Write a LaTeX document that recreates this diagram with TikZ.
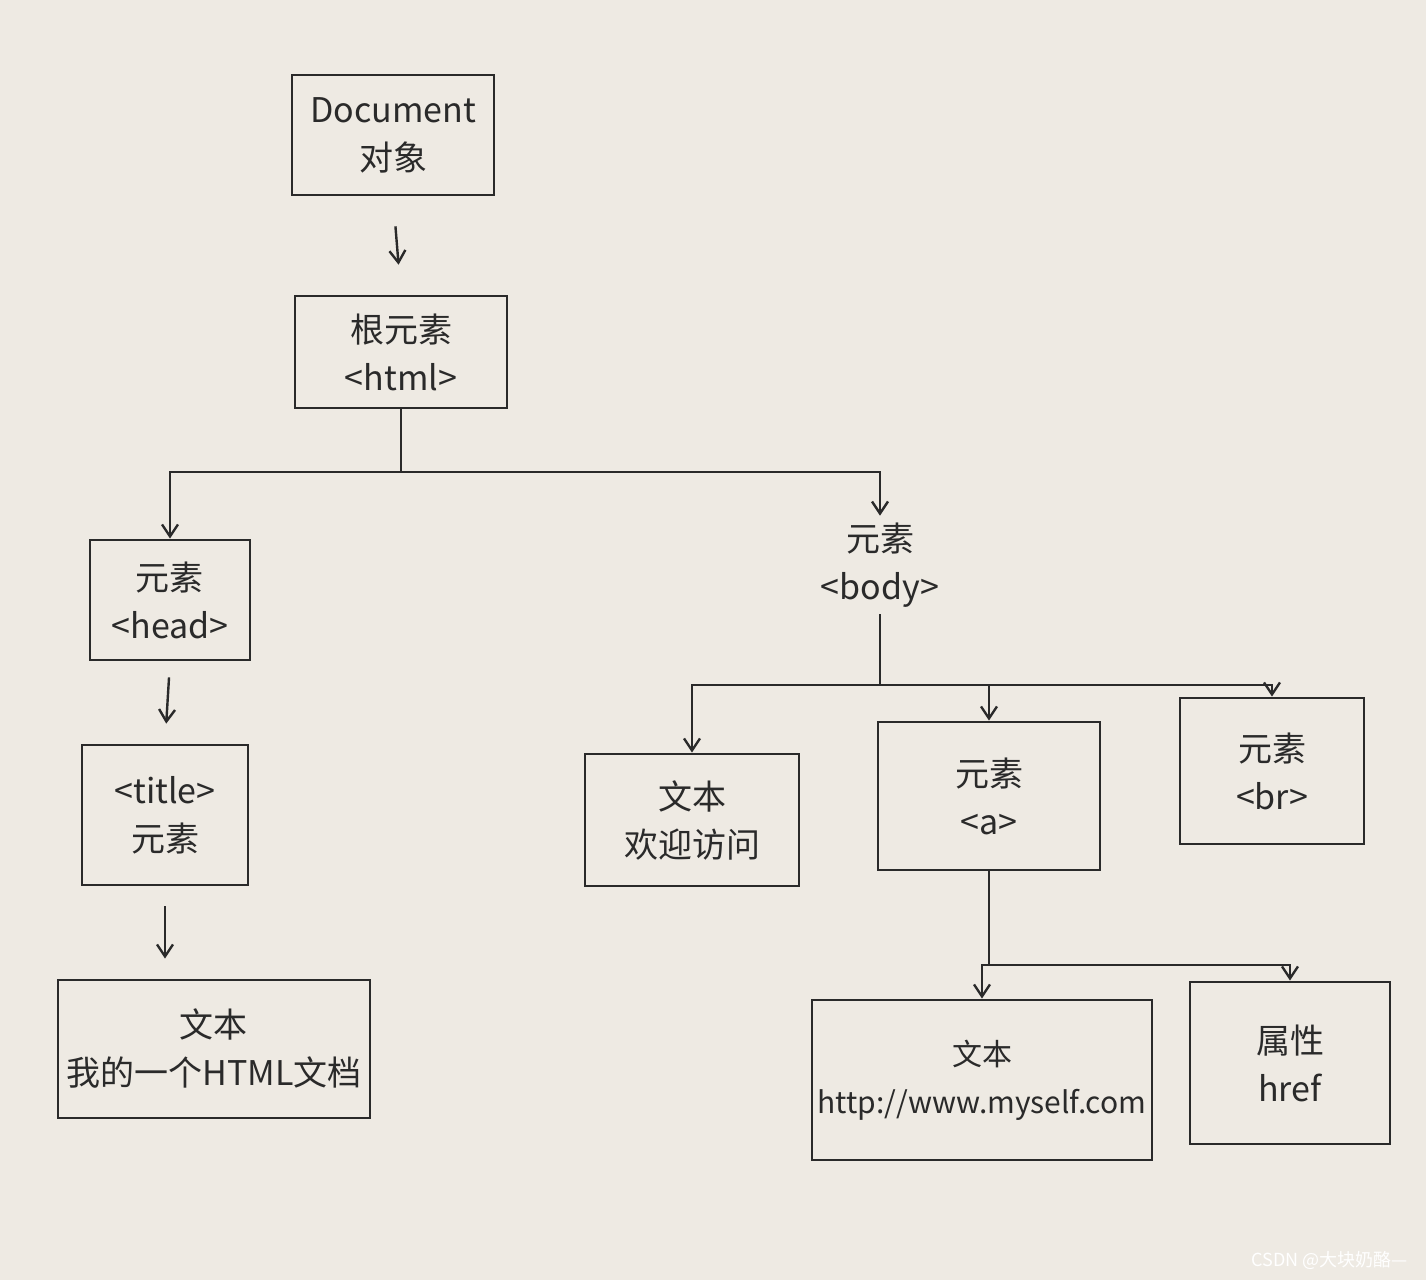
\documentclass[tikz,border=0pt]{standalone}
\usepackage{fontspec}
\setmainfont{Noto Sans CJK SC}
\usetikzlibrary{arrows.meta}
\definecolor{paper}{HTML}{EEEAE3}
\definecolor{ink}{HTML}{2A2A2A}
\begin{document}
\begin{tikzpicture}[x=0.5pt,y=-0.5pt,
  box/.style={draw=ink,line width=1.4pt,inner sep=0pt,align=center,font=\fontsize{17}{24}\selectfont,text=ink},
  lbl/.style={align=center,font=\fontsize{17}{24}\selectfont,text=ink},
  wire/.style={draw=ink,line width=1.2pt},
  arr/.style={wire,-{Straight Barb[length=6pt,width=8pt]}}]
\fill[paper] (0,0) rectangle (1426,1280);
\useasboundingbox (0,0) rectangle (1426,1280);
\node[box,minimum width=101pt,minimum height=60pt] (doc) at (393,135) {Document\\对象};
\node[box,minimum width=106pt,minimum height=56pt] (html) at (401,352) {根元素\\<html>};
\node[box,minimum width=80pt,minimum height=60pt] (head) at (170,600) {元素\\<head>};
\node[box,minimum width=83pt,minimum height=70pt] (title) at (165,815) {<title>\\元素};
\node[box,minimum width=156pt,minimum height=69pt] (t1) at (214,1049) {文本\\我的一个HTML文档};
\node[lbl] (body) at (880,565) {元素\\<body>};
\node[box,minimum width=107pt,minimum height=66pt] (t2) at (692,820) {文本\\欢迎访问};
\node[box,minimum width=111pt,minimum height=74pt] (a) at (989,796) {元素\\<a>};
\node[box,minimum width=92pt,minimum height=73pt] (br) at (1272,771) {元素\\<br>};
\node[box,minimum width=170pt,minimum height=80pt,font=\fontsize{15}{24}\selectfont] (t3) at (982,1080) {文本\\http://www.myself.com};
\node[box,minimum width=100pt,minimum height=81pt] (at) at (1290,1063) {属性\\href};
\node[lbl,font=\fontsize{9}{11}\selectfont,text=white,anchor=east] (wm) at (1415,1260) {CSDN @大块奶酪---};
% connectors
\draw[arr,shorten <=15pt,shorten >=15pt] (doc.south) -- (html.north);
\coordinate (j1) at (401,472);
\draw[wire] (html.south) -- (j1);
\draw[arr] (j1) -| (head.north);
\draw[arr] (j1) -| (body.north);
\draw[arr,shorten <=8pt,shorten >=10pt] (head.south) -- (title.north);
\draw[arr,shorten <=10pt,shorten >=10pt] (title.south) -- (title.south|-t1.north);
\coordinate (j2) at (880,685);
\draw[wire] (body.south) -- (j2);
\draw[arr] (j2) -| (t2.north);
\draw[arr] (j2) -| (a.north);
\draw[arr] (j2) -| (br.north);
\coordinate (j3) at (989,965);
\draw[wire] (a.south) -- (j3);
\draw[arr] (j3) -| (t3.north);
\draw[arr] (j3) -| (at.north);
\end{tikzpicture}
\end{document}
